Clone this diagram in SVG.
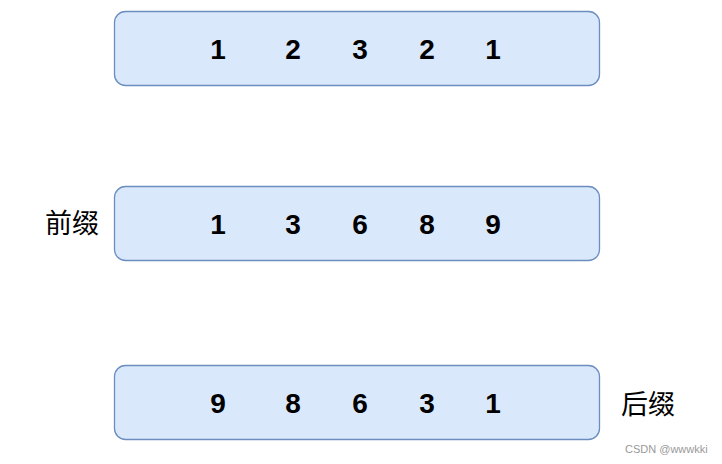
<svg xmlns="http://www.w3.org/2000/svg" width="722" height="464" viewBox="0 0 722 464">
<style>
.box{fill:#dae8fc;stroke:#6c8ebf;stroke-width:1.3}
.n{font-family:"Liberation Sans",Arial,sans-serif;font-weight:bold;font-size:28px;text-anchor:middle;fill:#000}
.lbl{font-family:"Noto Sans CJK SC","Noto Sans",sans-serif;font-size:27px;fill:#000}
.wm{font-family:"Liberation Sans",Arial,sans-serif;font-size:11px;fill:#999}
</style>
<rect width="722" height="464" fill="#fff"/>
<g id="row1">
<rect class="box" x="114.5" y="11.5" width="485" height="74" rx="11"/>
<text class="n" y="59"><tspan x="218">1</tspan><tspan x="293">2</tspan><tspan x="360">3</tspan><tspan x="427">2</tspan><tspan x="493">1</tspan></text>
</g>
<g id="row2">
<rect class="box" x="114.5" y="186.5" width="485" height="74" rx="11"/>
<text class="n" y="234"><tspan x="218">1</tspan><tspan x="293">3</tspan><tspan x="360">6</tspan><tspan x="427">8</tspan><tspan x="493">9</tspan></text>
</g>
<g id="row3">
<rect class="box" x="114.5" y="365.5" width="485" height="74" rx="11"/>
<text class="n" y="413"><tspan x="218">9</tspan><tspan x="293">8</tspan><tspan x="360">6</tspan><tspan x="427">3</tspan><tspan x="493">1</tspan></text>
</g>
<g id="label-prefix"><text class="lbl" x="45" y="233">前缀</text></g>
<g id="label-suffix"><text class="lbl" x="621" y="414">后缀</text></g>
<g id="connectors"></g>
<text class="wm" x="625" y="453">CSDN @wwwkki</text>
</svg>
